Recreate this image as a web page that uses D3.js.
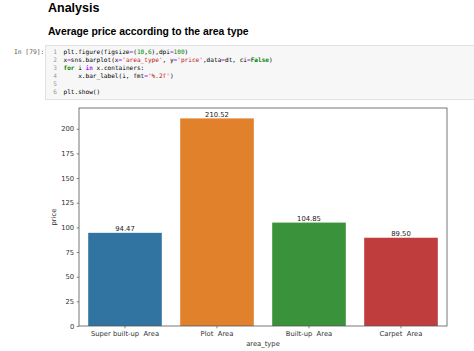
<!DOCTYPE html>
<html>
<head>
<meta charset="utf-8">
<script src="https://cdn.jsdelivr.net/npm/d3@7"></script>
<style>
  body { margin: 0; background: #ffffff; }
  svg text { font-family: "DejaVu Sans", sans-serif; white-space: pre; }
</style>
</head>
<body>
<div id="chart"></div>
<script>
// chart values
var categories = ["Super built-up  Area", "Plot  Area", "Built-up  Area", "Carpet  Area"];
var prices = [94.47, 210.52, 104.85, 89.50];
var barColors = ["#3274a1", "#e1812c", "#3a923a", "#c03d3e"];
var yTicks = [0, 25, 50, 75, 100, 125, 150, 175, 200];

// notebook cell text, each line as [text, colour, bold] pieces
var codeLines = [
    [["plt.figure(figsize", "#000"], ["=", "#aa22ff"], ["(", "#000"], ["10", "#008800"], [",", "#000"], ["6", "#008800"], ["),dpi", "#000"], ["=", "#aa22ff"], ["100", "#008800"], [")", "#000"]],
    [["x", "#000"], ["=", "#aa22ff"], ["sns.barplot(x", "#000"], ["=", "#aa22ff"], ["'area_type'", "#ba2121"], [", y", "#000"], ["=", "#aa22ff"], ["'price'", "#ba2121"], [",data", "#000"], ["=", "#aa22ff"], ["dt, ci", "#000"], ["=", "#aa22ff"], ["False", "#008000", true], [")", "#000"]],
    [["for", "#008000", true], [" i ", "#000"], ["in", "#aa22ff", true], [" x.containers:", "#000"]],
    [["    x.bar_label(i, fmt", "#000"], ["=", "#aa22ff"], ["'%.2f'", "#ba2121"], [")", "#000"]],
    [],
    [["plt.show()", "#000"]]
];

var W = 474, H = 351;
var svg = d3.select("#chart").append("svg")
    .attr("width", W)
    .attr("height", H);

// headings
svg.append("text")
    .attr("x", 48).attr("y", 11.5)
    .style("font-family", "Liberation Sans, Arial, sans-serif")
    .style("font-weight", "bold")
    .style("font-size", "12.5px")
    .style("fill", "#000")
    .text("Analysis");

svg.append("text")
    .attr("x", 48).attr("y", 35)
    .style("font-family", "Liberation Sans, Arial, sans-serif")
    .style("font-weight", "bold")
    .style("font-size", "10.4px")
    .style("fill", "#000")
    .text("Average price according to the area type");

// code cell
svg.append("text")
    .attr("x", 14).attr("y", 53.5)
    .style("font-family", "DejaVu Sans Mono, monospace")
    .style("font-size", "6.3px")
    .style("fill", "#555")
    .text("In [79]:");

svg.append("rect")
    .attr("x", 45.5).attr("y", 45.5)
    .attr("width", 440).attr("height", 54)
    .attr("fill", "#f7f7f7")
    .attr("stroke", "#e2e2e2");

codeLines.forEach(function (parts, i) {
    var ly = 53.5 + i * 8.1;
    svg.append("text")
        .attr("x", 57).attr("y", ly)
        .attr("text-anchor", "end")
        .style("font-family", "DejaVu Sans Mono, monospace")
        .style("font-size", "6.1px")
        .style("fill", "#999")
        .text(i + 1);
    var t = svg.append("text")
        .attr("x", 63.5).attr("y", ly)
        .style("font-family", "DejaVu Sans Mono, monospace")
        .style("font-size", "6.1px");
    parts.forEach(function (p) {
        t.append("tspan")
            .style("fill", p[1])
            .style("font-weight", p[2] ? "bold" : "normal")
            .text(p[0]);
    });
});

// the figure
var margin = { top: 108, left: 79, right: 27, bottom: 25 };
var width = W - margin.left - margin.right,
    height = H - margin.top - margin.bottom;

var g = svg.append("g")
    .attr("transform", "translate(" + margin.left + "," + margin.top + ")");

var x = d3.scaleBand().domain(categories).range([0, width])
    .paddingInner(0.2).paddingOuter(0.1);
var y = d3.scaleLinear().domain([0, d3.max(prices) * 1.05]).range([height, 0]);

var data = categories.map(function (c, i) {
    return { category: c, price: prices[i], color: barColors[i] };
});

g.selectAll(".bar")
    .data(data)
    .enter()
    .append("rect")
    .attr("class", "bar")
    .attr("x", function (d) { return x(d.category); })
    .attr("width", x.bandwidth())
    .attr("y", function (d) { return y(d.price); })
    .attr("height", function (d) { return height - y(d.price); })
    .attr("fill", function (d) { return d.color; });

// bar labels
g.selectAll(".bar-label")
    .data(data)
    .enter()
    .append("text")
    .attr("class", "bar-label")
    .attr("x", function (d) { return x(d.category) + x.bandwidth() / 2; })
    .attr("y", function (d) { return y(d.price) - 1.5; })
    .attr("text-anchor", "middle")
    .style("font-size", "6.8px")
    .style("fill", "#222")
    .text(function (d) { return d.price.toFixed(2); });

// axes
var xAxis = g.append("g")
    .attr("transform", "translate(0," + height + ")")
    .call(d3.axisBottom(x).tickSize(2.3).tickPadding(2.5));
var yAxis = g.append("g")
    .call(d3.axisLeft(y).tickValues(yTicks).tickSize(2.3).tickPadding(2.5));

[xAxis, yAxis].forEach(function (a) {
    a.select(".domain").remove();
    a.selectAll("line").attr("stroke", "#333").attr("stroke-width", 0.6);
    a.selectAll("text")
        .style("font-family", "DejaVu Sans, sans-serif")
        .style("font-size", "6.8px")
        .style("fill", "#333");
});

// frame
g.append("rect")
    .attr("x", 0).attr("y", 0)
    .attr("width", width).attr("height", height)
    .attr("fill", "none")
    .attr("stroke", "#555")
    .attr("stroke-width", 0.8);

// axis titles
g.append("text")
    .attr("transform", "translate(-23," + (height / 2) + ") rotate(-90)")
    .attr("text-anchor", "middle")
    .style("font-size", "6.8px")
    .style("fill", "#333")
    .text("price");

g.append("text")
    .attr("x", width / 2).attr("y", height + 20)
    .attr("text-anchor", "middle")
    .style("font-size", "6.8px")
    .style("fill", "#333")
    .text("area_type");
</script>
</body>
</html>
